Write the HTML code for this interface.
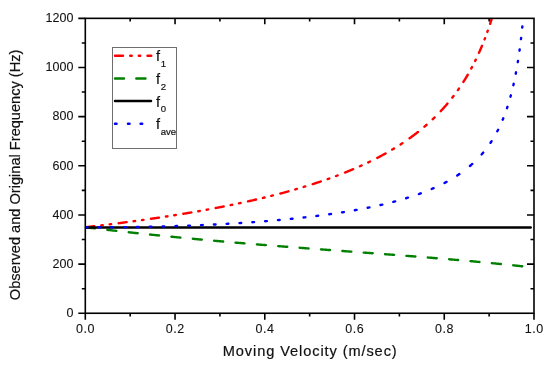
<!DOCTYPE html>
<html><head><meta charset="utf-8"><title>Doppler frequency plot</title><style>
html,body{margin:0;padding:0;background:#fff;}
body{width:550px;height:365px;overflow:hidden;}
svg{display:block;font-family:"Liberation Sans",Arial,sans-serif;}
text{stroke:#111;stroke-width:0.2px;}
.tl text{stroke-width:0.08px;}
</style></head><body>
<svg width="550" height="365" viewBox="0 0 550 365">
<defs><clipPath id="c"><rect x="85.3" y="18.35" width="448.7" height="294.9"/></clipPath></defs>
<g clip-path="url(#c)" fill="none" stroke-width="2.4" stroke-linecap="round">
<path d="M86.49,227.10 L87.47,226.99 L88.45,226.88 L89.42,226.76 L90.40,226.65 L91.38,226.54 L92.35,226.42 L93.33,226.31 L94.30,226.20 M101.26,225.37 L102.02,225.28 L102.78,225.18 M109.62,224.35 L110.38,224.25 L111.14,224.16 M118.66,223.20 L119.55,223.09 L120.44,222.98 L121.33,222.86 L122.21,222.75 L123.10,222.63 L123.99,222.51 L124.88,222.40 L125.76,222.28 L126.65,222.16 M133.60,221.23 L134.36,221.13 L135.13,221.03 M141.96,220.08 L142.73,219.97 L143.49,219.87 M151.00,218.79 L151.89,218.66 L152.78,218.53 L153.67,218.40 L154.56,218.27 L155.45,218.14 L156.34,218.01 L157.22,217.88 L158.11,217.74 L159.00,217.61 M165.94,216.56 L166.71,216.44 L167.47,216.32 M174.31,215.25 L175.07,215.12 L175.84,215.00 M183.35,213.78 L184.24,213.63 L185.13,213.48 L186.01,213.33 L186.90,213.19 L187.79,213.04 L188.68,212.89 L189.57,212.73 L190.46,212.58 L191.35,212.43 M198.29,211.23 L199.05,211.09 L199.82,210.95 M206.65,209.72 L207.42,209.58 L208.19,209.44 M215.69,208.03 L216.58,207.86 L217.47,207.69 L218.36,207.52 L219.25,207.35 L220.14,207.17 L221.03,207.00 L221.92,206.83 L222.81,206.65 L223.70,206.48 M230.62,205.08 L231.40,204.92 L232.18,204.76 M238.98,203.34 L239.76,203.17 L240.54,203.00 M248.02,201.37 L248.92,201.17 L249.81,200.97 L250.70,200.77 L251.59,200.57 L252.49,200.36 L253.38,200.16 L254.27,199.96 L255.16,199.75 L256.05,199.54 M262.96,197.91 L263.75,197.72 L264.53,197.53 M271.32,195.86 L272.11,195.66 L272.90,195.46 M280.36,193.53 L281.25,193.29 L282.15,193.05 L283.04,192.81 L283.94,192.57 L284.83,192.33 L285.73,192.09 L286.62,191.84 L287.52,191.60 L288.41,191.35 M295.29,189.41 L296.09,189.18 L296.89,188.94 M303.65,186.94 L304.45,186.69 L305.26,186.45 M312.69,184.12 L313.59,183.83 L314.49,183.54 L315.39,183.25 L316.29,182.96 L317.19,182.66 L318.08,182.36 L318.98,182.07 L319.88,181.77 L320.78,181.46 M327.62,179.10 L328.44,178.81 L329.26,178.52 M335.97,176.06 L336.80,175.75 L337.63,175.44 M345.00,172.57 L345.91,172.20 L346.82,171.84 L347.73,171.47 L348.63,171.10 L349.54,170.72 L350.44,170.35 L351.35,169.97 L352.25,169.59 L353.15,169.21 M359.92,166.25 L360.78,165.87 L361.64,165.48 M368.27,162.38 L369.15,161.96 L370.02,161.54 M377.30,157.88 L378.13,157.45 L378.96,157.01 L379.79,156.57 L380.62,156.13 L381.44,155.69 L382.27,155.24 L383.09,154.79 L383.92,154.34 L384.74,153.89 L385.56,153.43 M392.21,149.59 L392.82,149.23 L393.44,148.86 L394.05,148.48 M400.54,144.41 L401.18,144.00 L401.81,143.59 L402.44,143.17 M409.56,138.28 L410.34,137.72 L411.11,137.16 L411.89,136.59 L412.66,136.02 L413.43,135.45 L414.20,134.87 L414.97,134.29 L415.73,133.71 L416.49,133.13 L417.25,132.54 L418.01,131.94 M424.43,126.68 L425.13,126.08 L425.83,125.48 L426.52,124.88 M432.67,119.26 L433.31,118.66 L433.95,118.04 L434.58,117.43 M440.78,111.11 L441.40,110.44 L442.02,109.77 L442.64,109.09 L443.25,108.42 L443.87,107.74 L444.47,107.05 L445.08,106.37 L445.68,105.68 L446.28,104.99 L446.87,104.29 L447.46,103.60 M452.31,97.64 L452.72,97.10 L453.13,96.57 L453.54,96.04 M457.90,90.10 L458.44,89.34 L458.97,88.57 M463.36,81.96 L463.87,81.16 L464.37,80.36 L464.87,79.56 L465.36,78.76 L465.85,77.95 L466.34,77.15 L466.82,76.34 L467.30,75.52 L467.78,74.71 M471.25,68.52 L471.62,67.82 L471.99,67.13 M475.13,61.00 L475.46,60.32 L475.79,59.65 M478.96,52.87 L479.35,51.99 L479.75,51.10 L480.13,50.22 L480.52,49.33 L480.90,48.44 L481.28,47.55 L481.65,46.66 L482.02,45.77 M484.56,39.44 L484.80,38.81 L485.04,38.18 M487.34,31.93 L487.56,31.31 L487.78,30.69 M490.12,23.81 L490.40,22.94 L490.68,22.06 L490.96,21.19 L491.24,20.31 L491.51,19.44 L491.79,18.56 L492.06,17.68 L492.33,16.80" stroke="#ff0000"/>
<path d="M86.49,227.38 L87.44,227.50 L88.38,227.61 L89.32,227.72 L90.27,227.84 L91.21,227.95 L92.16,228.07 L93.10,228.18 L94.05,228.29 L94.99,228.40 M107.36,229.85 L108.26,229.96 L109.16,230.06 L110.06,230.17 L110.96,230.27 L111.86,230.37 L112.75,230.47 L113.65,230.58 L114.55,230.68 L115.45,230.78 L116.35,230.88 M128.72,232.26 L129.62,232.36 L130.52,232.46 L131.42,232.56 L132.32,232.66 L133.22,232.75 L134.12,232.85 L135.01,232.95 L135.91,233.05 L136.81,233.14 L137.71,233.24 M150.09,234.55 L150.98,234.64 L151.88,234.74 L152.78,234.83 L153.68,234.92 L154.58,235.02 L155.48,235.11 L156.38,235.20 L157.27,235.29 L158.17,235.39 L159.07,235.48 M171.45,236.72 L172.35,236.81 L173.24,236.90 L174.14,236.99 L175.04,237.08 L175.94,237.16 L176.84,237.25 L177.74,237.34 L178.63,237.43 L179.53,237.51 L180.43,237.60 M192.81,238.78 L193.71,238.87 L194.61,238.95 L195.50,239.04 L196.40,239.12 L197.30,239.20 L198.20,239.29 L199.10,239.37 L200.00,239.45 L200.89,239.54 L201.79,239.62 M214.17,240.74 L215.07,240.83 L215.97,240.91 L216.87,240.99 L217.76,241.07 L218.66,241.14 L219.56,241.22 L220.46,241.30 L221.36,241.38 L222.25,241.46 L223.15,241.54 M235.53,242.61 L236.43,242.69 L237.33,242.77 L238.23,242.84 L239.12,242.92 L240.02,243.00 L240.92,243.07 L241.82,243.15 L242.72,243.22 L243.62,243.30 L244.51,243.37 M256.89,244.40 L257.79,244.47 L258.69,244.55 L259.59,244.62 L260.49,244.69 L261.38,244.77 L262.28,244.84 L263.18,244.91 L264.08,244.99 L264.98,245.06 L265.87,245.13 M278.26,246.12 L279.15,246.19 L280.05,246.26 L280.95,246.33 L281.85,246.40 L282.75,246.47 L283.64,246.54 L284.54,246.61 L285.44,246.68 L286.34,246.75 L287.24,246.82 M299.62,247.78 L300.51,247.85 L301.41,247.92 L302.31,247.99 L303.21,248.06 L304.11,248.12 L305.00,248.19 L305.90,248.26 L306.80,248.33 L307.70,248.40 L308.60,248.47 M320.98,249.40 L321.88,249.47 L322.77,249.54 L323.67,249.60 L324.57,249.67 L325.47,249.74 L326.37,249.81 L327.26,249.87 L328.16,249.94 L329.06,250.01 L329.96,250.07 M342.34,251.00 L343.24,251.06 L344.13,251.13 L345.03,251.20 L345.93,251.27 L346.83,251.33 L347.73,251.40 L348.62,251.47 L349.52,251.53 L350.42,251.60 L351.32,251.67 M363.70,252.59 L364.60,252.65 L365.50,252.72 L366.39,252.79 L367.29,252.86 L368.19,252.92 L369.09,252.99 L369.99,253.06 L370.88,253.12 L371.78,253.19 L372.68,253.26 M385.06,254.19 L385.96,254.26 L386.86,254.33 L387.76,254.39 L388.65,254.46 L389.55,254.53 L390.45,254.60 L391.35,254.67 L392.25,254.74 L393.14,254.80 L394.04,254.87 M406.42,255.83 L407.32,255.90 L408.22,255.97 L409.12,256.04 L410.01,256.11 L410.91,256.18 L411.81,256.25 L412.71,256.32 L413.61,256.39 L414.50,256.46 L415.40,256.53 M427.78,257.52 L428.68,257.59 L429.58,257.66 L430.48,257.73 L431.38,257.81 L432.27,257.88 L433.17,257.95 L434.07,258.03 L434.97,258.10 L435.87,258.18 L436.76,258.25 M449.14,259.29 L450.04,259.36 L450.94,259.44 L451.84,259.52 L452.74,259.59 L453.64,259.67 L454.53,259.75 L455.43,259.83 L456.33,259.90 L457.23,259.98 L458.13,260.06 M470.50,261.16 L471.40,261.24 L472.30,261.32 L473.20,261.40 L474.10,261.49 L475.00,261.57 L475.89,261.65 L476.79,261.73 L477.69,261.82 L478.59,261.90 L479.49,261.98 M491.86,263.16 L492.76,263.25 L493.66,263.34 L494.56,263.43 L495.46,263.51 L496.36,263.60 L497.26,263.69 L498.15,263.78 L499.05,263.87 L499.95,263.96 L500.85,264.05 M513.23,265.32 L514.12,265.42 L515.02,265.51 L515.92,265.61 L516.82,265.70 L517.72,265.80 L518.62,265.90 L519.52,265.99 L520.41,266.09 L521.31,266.19 L522.21,266.29" stroke="#008000"/>
<path d="M85.30,227.5 L530.68,227.5" stroke="#000" stroke-width="2.5"/>
<path d="M86.50,227.24 L87.38,227.24 M98.48,227.26 L99.34,227.26 L100.20,227.26 M111.30,227.22 L112.16,227.22 L113.02,227.21 M124.12,227.13 L124.98,227.12 L125.85,227.11 M136.94,226.97 L137.80,226.95 L138.67,226.94 M149.76,226.74 L150.62,226.73 L151.49,226.71 M162.58,226.45 L163.44,226.43 L164.31,226.41 M175.40,226.09 L176.26,226.06 L177.13,226.04 M188.22,225.66 L189.08,225.62 L189.95,225.59 M201.04,225.14 L201.90,225.11 L202.77,225.07 M213.86,224.55 L214.72,224.50 L215.59,224.46 M226.68,223.87 L227.54,223.82 L228.41,223.77 M239.50,223.09 L240.36,223.03 L241.23,222.98 M252.32,222.21 L253.19,222.15 L254.05,222.09 M265.14,221.23 L266.01,221.16 L266.87,221.09 M277.96,220.13 L278.83,220.05 L279.69,219.97 M290.78,218.89 L291.65,218.81 L292.52,218.72 M303.60,217.52 L304.47,217.42 L305.34,217.32 M316.41,215.99 L317.29,215.88 L318.16,215.76 M329.23,214.27 L330.11,214.15 L330.98,214.02 M342.05,212.36 L342.93,212.22 L343.81,212.08 M354.87,210.20 L355.75,210.05 L356.63,209.89 M367.68,207.78 L368.57,207.60 L369.46,207.42 M380.50,205.02 L381.39,204.82 L382.28,204.61 M393.31,201.88 L394.21,201.64 L395.11,201.40 M406.11,198.25 L407.03,197.97 L407.95,197.68 M418.92,194.01 L419.85,193.68 L420.79,193.34 M431.71,189.00 L432.35,188.73 L432.99,188.45 L433.63,188.17 M444.49,182.96 L445.16,182.61 L445.83,182.25 L446.50,181.90 M457.25,175.50 L457.97,175.03 L458.68,174.55 L459.38,174.07 M469.98,165.97 L470.56,165.47 L471.14,164.96 L471.72,164.46 L472.29,163.94 M481.64,154.44 L482.18,153.82 L482.71,153.19 L483.24,152.56 M490.49,142.84 L490.86,142.28 L491.23,141.72 L491.60,141.15 M497.31,131.28 L497.72,130.50 L498.12,129.71 M502.68,119.74 L502.99,119.00 L503.29,118.26 M506.99,108.21 L507.22,107.50 L507.46,106.79 M510.48,96.69 L510.67,96.00 L510.86,95.31 M513.36,85.18 L513.52,84.50 L513.67,83.82 M515.76,73.67 L515.89,73.00 L516.02,72.33 M517.78,62.17 L517.89,61.50 L517.99,60.84 M519.49,50.67 L519.58,50.01 L519.67,49.34 M520.96,39.17 L521.03,38.51 L521.11,37.85 M522.22,27.67 L522.28,27.01 L522.35,26.35 M523.31,16.17 L523.37,15.51 L523.42,14.86" stroke="#0000ff"/>
</g>
<g stroke="#000" stroke-width="1.6" fill="none">
<rect x="85.3" y="18.35" width="448.70" height="294.90"/>
<path d="M85.30,313.25V319.65M130.17,313.25V316.55M130.17,18.35V21.45M175.04,313.25V319.65M175.04,18.35V24.15M219.91,313.25V316.55M219.91,18.35V21.45M264.78,313.25V319.65M264.78,18.35V24.15M309.65,313.25V316.55M309.65,18.35V21.45M354.52,313.25V319.65M354.52,18.35V24.15M399.39,313.25V316.55M399.39,18.35V21.45M444.26,313.25V319.65M444.26,18.35V24.15M489.13,313.25V316.55M489.13,18.35V21.45M534.00,313.25V319.65M85.3,313.25H78.30M85.3,288.68H81.80M534.0,288.68H530.50M85.3,264.10H78.30M534.0,264.10H527.00M85.3,239.53H81.80M534.0,239.53H530.50M85.3,214.95H78.30M534.0,214.95H527.00M85.3,190.38H81.80M534.0,190.38H530.50M85.3,165.80H78.30M534.0,165.80H527.00M85.3,141.23H81.80M534.0,141.23H530.50M85.3,116.65H78.30M534.0,116.65H527.00M85.3,92.07H81.80M534.0,92.07H530.50M85.3,67.50H78.30M534.0,67.50H527.00M85.3,42.93H81.80M534.0,42.93H530.50M85.3,18.35H78.30"/>
</g>
<g class="tl" font-size="12.5" fill="#111">
<text x="73.4" y="317.05" text-anchor="end">0</text>
<text x="73.4" y="267.90" text-anchor="end">200</text>
<text x="73.4" y="218.75" text-anchor="end">400</text>
<text x="73.4" y="169.60" text-anchor="end">600</text>
<text x="73.4" y="120.45" text-anchor="end">800</text>
<text x="73.4" y="71.30" text-anchor="end">1000</text>
<text x="73.4" y="22.15" text-anchor="end">1200</text>
<text x="85.60" y="332.8" text-anchor="middle" letter-spacing="0.6">0.0</text>
<text x="175.34" y="332.8" text-anchor="middle" letter-spacing="0.6">0.2</text>
<text x="265.08" y="332.8" text-anchor="middle" letter-spacing="0.6">0.4</text>
<text x="354.82" y="332.8" text-anchor="middle" letter-spacing="0.6">0.6</text>
<text x="444.56" y="332.8" text-anchor="middle" letter-spacing="0.6">0.8</text>
<text x="534.30" y="332.8" text-anchor="middle" letter-spacing="0.6">1.0</text>
</g>
<text x="310.2" y="355.6" text-anchor="middle" font-size="14.6" letter-spacing="0.9" fill="#111">Moving Velocity (m/sec)</text>
<text transform="translate(20.3,174.9) rotate(-90)" text-anchor="middle" font-size="14.6" fill="#111">Observed and Original Frequency (Hz)</text>
<rect x="112.5" y="47.5" width="64" height="101" fill="#fff" stroke="#6e6e6e" stroke-width="1"/>
<g stroke-width="2.4" fill="none" stroke-linecap="round">
<path d="M115,55.8H123 M130.2,55.8H131.7 M138.8,55.8H140.2 M147.5,55.8H151.2" stroke="#ff0000"/>
<path d="M115,78.5H124 M136.3,78.5H145.5" stroke="#008000"/>
<path d="M115,101H151" stroke="#000" stroke-width="2.5"/>
<path d="M114.95,123.8H116.55 M127.95,123.8H129.55 M140.6,123.8H142.2" stroke="#0000ff"/>
</g>
<g fill="#111" font-size="14.5">
<text x="156" y="61">f<tspan font-size="9.6" dx="0.6" dy="5.6">1</tspan></text>
<text x="156" y="84">f<tspan font-size="9.6" dx="0.6" dy="5.6">2</tspan></text>
<text x="156" y="106.5">f<tspan font-size="9.6" dx="0.6" dy="5.6">0</tspan></text>
<text x="156" y="129.4">f<tspan font-size="9.6" dx="0.6" dy="5.6">ave</tspan></text>
</g>
</svg>
</body></html>
